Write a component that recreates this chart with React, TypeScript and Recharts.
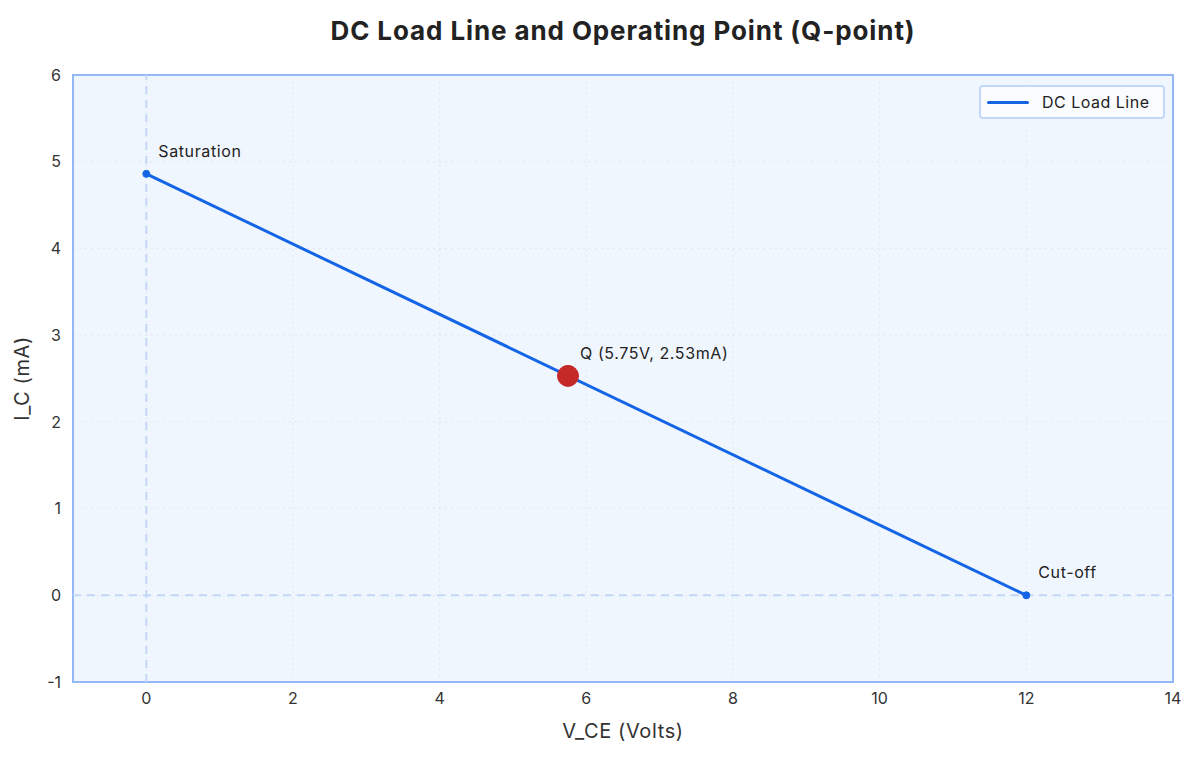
import React from "react";
import {
  ComposedChart,
  Line,
  XAxis,
  YAxis,
  CartesianGrid,
  ReferenceLine,
  ReferenceDot,
  ReferenceArea,
  Label,
} from "recharts";

const loadLine = [
  { vce: 0, ic: 4.86 },
  { vce: 12, ic: 0 },
];
const qPoint = { vce: 5.75, ic: 2.53 };
const xTicks = [0, 2, 4, 6, 8, 10, 12, 14];
const yTicks = [-1, 0, 1, 2, 3, 4, 5, 6];
const annotations = [
  { x: 0, y: 4.86, text: "Saturation" },
  { x: 12, y: 0, text: "Cut-off" },
  { x: 5.75, y: 2.53, text: "Q (5.75V, 2.53mA)" },
];

const FONT = "Inter, 'Noto Sans', sans-serif";
const LINE_COLOR = "#1464e6";

const AnnLabel = (text: string) => (props: any) => {
  const vb = props.viewBox || {};
  const cx = vb.x + (vb.width || 0) / 2;
  const cy = vb.y + (vb.height || 0) / 2;
  return (
    <text
      x={cx + 12}
      y={cy - 17}
      fontSize={16}
      fill="#222"
      fontFamily={FONT}
      style={{ letterSpacing: "0.6px" }}
    >
      {text}
    </text>
  );
};

export default function App() {
  return (
    <div
      style={{
        position: "fixed",
        left: 0,
        top: 0,
        width: 1200,
        height: 760,
        background: "#ffffff",
        fontFamily: FONT,
      }}
    >
      <div
        style={{
          position: "absolute",
          left: 0,
          top: 15,
          width: 1246,
          textAlign: "center",
          fontSize: 26,
          fontWeight: 700,
          letterSpacing: "0.9px",
          color: "#222",
        }}
      >
        DC Load Line and Operating Point (Q-point)
      </div>
      <ComposedChart
        width={1200}
        height={760}
        margin={{ top: 75, right: 27, bottom: 18, left: 0 }}
      >
        <CartesianGrid
          fill="#f0f6fe"
          stroke="#dfe7f2"
          strokeDasharray="2 4"
        />
        <XAxis
          type="number"
          dataKey="vce"
          domain={[-1, 14]}
          ticks={xTicks}
          allowDataOverflow
          height={60}
          tickLine={false}
          axisLine={false}
          tick={{ fill: "#333", fontSize: 16, fontFamily: FONT }}
          tickMargin={5}
        >
          <Label
            value="V_CE (Volts)"
            position="insideBottom"
            offset={4}
            style={{ fill: "#333", fontSize: 20, fontFamily: FONT, letterSpacing: "0.6px" }}
          />
        </XAxis>
        <YAxis
          type="number"
          domain={[-1, 6]}
          ticks={yTicks}
          allowDataOverflow
          width={73}
          tickLine={false}
          axisLine={false}
          tick={{ fill: "#333", fontSize: 16, fontFamily: FONT }}
          tickMargin={6}
        >
          <Label
            value="I_C (mA)"
            angle={-90}
            position="insideLeft"
            offset={22}
            style={{ fill: "#333", fontSize: 20, fontFamily: FONT, textAnchor: "middle", letterSpacing: "0.6px" }}
          />
        </YAxis>
        <ReferenceLine x={0} stroke="#c4d7f7" strokeWidth={2} strokeDasharray="8 6" />
        <ReferenceLine y={0} stroke="#c4d7f7" strokeWidth={2} strokeDasharray="8 6" />
        <ReferenceArea
          x1={-1}
          x2={14}
          y1={-1}
          y2={6}
          fill="none"
          stroke="#93b8f5"
          strokeWidth={2}
          ifOverflow="visible"
        />
        <Line
          data={loadLine}
          dataKey="ic"
          type="linear"
          stroke={LINE_COLOR}
          strokeWidth={3}
          dot={{ r: 3.5, fill: LINE_COLOR, stroke: LINE_COLOR, strokeWidth: 1 }}
          isAnimationActive={false}
        />
        <ReferenceDot
          x={qPoint.vce}
          y={qPoint.ic}
          r={10.5}
          fill="#c62828"
          stroke="#c62828"
          strokeWidth={1}
        />
        {annotations.map((a) => (
          <ReferenceDot
            key={a.text}
            x={a.x}
            y={a.y}
            r={0}
            fill="none"
            stroke="none"
            label={AnnLabel(a.text)}
          />
        ))}
      </ComposedChart>
      <div
        style={{
          position: "absolute",
          left: 979,
          top: 85,
          width: 182,
          height: 30,
          border: "2px solid #c3d7f8",
          borderRadius: 4,
          background: "#fafcff",
          display: "flex",
          alignItems: "center",
          fontSize: 16,
          letterSpacing: "0.5px",
          color: "#222",
        }}
      >
        <div
          style={{
            width: 42,
            height: 3,
            background: LINE_COLOR,
            marginLeft: 6,
            marginRight: 13,
            borderRadius: 2,
          }}
        />
        DC Load Line
      </div>
    </div>
  );
}
